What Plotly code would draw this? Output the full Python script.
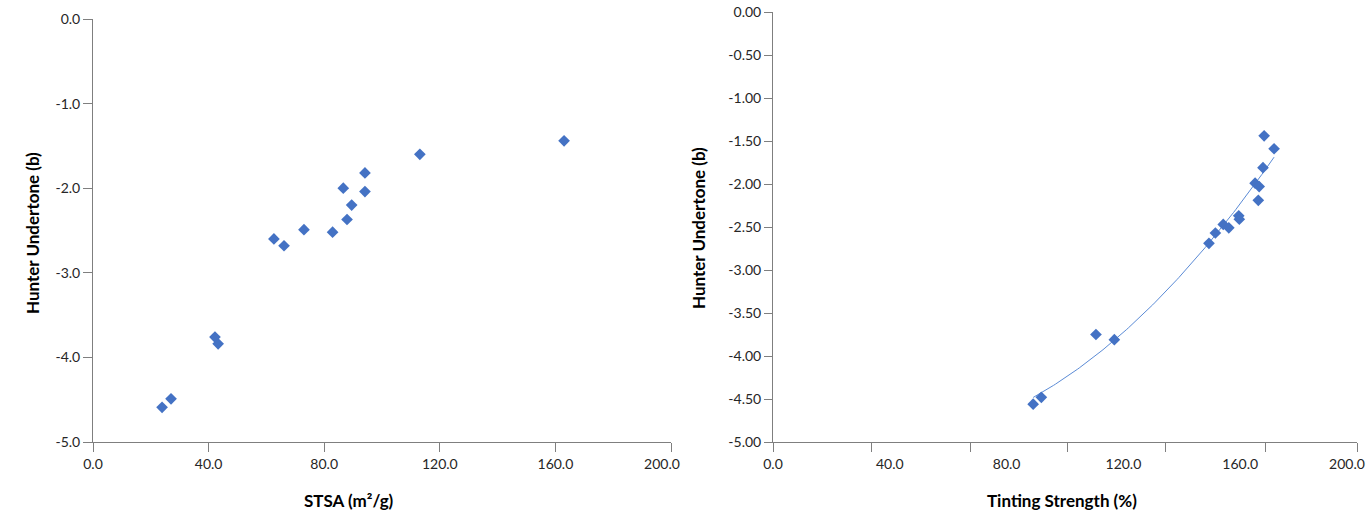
import numpy as np
import plotly.graph_objects as go

# ---- data ----
stsa_x = [23.9, 27.0, 42.2, 43.3, 62.6, 66.1, 73.0, 82.9, 86.6, 87.9, 89.5, 94.1, 94.1, 113.1, 163.0]
stsa_y = [-4.59, -4.49, -3.76, -3.84, -2.60, -2.68, -2.49, -2.52, -2.00, -2.37, -2.20, -1.82, -2.04, -1.60, -1.44]

tint_x = [89.1, 91.9, 110.6, 116.9, 149.3, 151.5, 154.2, 156.1, 159.5, 159.7, 165.1, 166.5, 166.2, 167.8, 168.2, 171.6]
tint_y = [-4.56, -4.48, -3.75, -3.81, -2.69, -2.57, -2.47, -2.51, -2.37, -2.41, -1.99, -2.03, -2.19, -1.81, -1.44, -1.59]

left_xticks = [0, 40, 80, 120, 160, 200]
left_yticks = [0, -1, -2, -3, -4, -5]
right_xlabels = [0, 40, 80, 120, 160, 200]
right_xtickmarks = [0, 33.8, 67.5, 101, 134.5, 168.5, 200]
right_yticks = [0, -0.5, -1, -1.5, -2, -2.5, -3, -3.5, -4, -4.5, -5]

# polynomial (order 2) trendline fitted to the tinting-strength data
coef = np.polyfit(tint_x, tint_y, 2)
trend_x = np.linspace(min(tint_x), max(tint_x), 120)
trend_y = np.polyval(coef, trend_x)

W, H = 1372, 516
BLUE = "#4472C4"
AX = "#7F7F7F"
FONT = "Lato"
TICKFONT = dict(family=FONT, size=14, color="#262626")

def px(x):
    return x / W

def py(y):
    return 1 - y / H

fig = go.Figure()
fig.add_trace(go.Scatter(x=stsa_x, y=stsa_y, mode="markers", xaxis="x", yaxis="y",
                         marker=dict(symbol="diamond", size=9, color=BLUE), showlegend=False))
fig.add_trace(go.Scatter(x=trend_x, y=trend_y, mode="lines", xaxis="x2", yaxis="y2",
                         line=dict(color="#5B8BD6", width=1), showlegend=False))
fig.add_trace(go.Scatter(x=tint_x, y=tint_y, mode="markers", xaxis="x2", yaxis="y2",
                         marker=dict(symbol="diamond", size=9, color=BLUE), showlegend=False))

common = dict(showgrid=False, zeroline=False, showline=True, linecolor=AX, linewidth=1,
              ticks="outside", tickcolor=AX, tickwidth=1, tickfont=TICKFONT,
              fixedrange=True, automargin=False)
label_only = dict(range=[0, 200], side="bottom", showgrid=False, zeroline=False,
                  showline=False, ticks="outside", ticklen=9, tickcolor="rgba(0,0,0,0)",
                  tickfont=TICKFONT, fixedrange=True, automargin=False,
                  ticklabeloverflow="allow")

fig.update_layout(
    width=W, height=H, margin=dict(l=0, r=0, t=0, b=0, autoexpand=False),
    paper_bgcolor="white", plot_bgcolor="white",
    # left chart
    xaxis=dict(domain=[px(93), px(671)], range=[0, 200], anchor="y",
               tickvals=left_xticks,
               ticktext=[f"{v:.1f}" for v in left_xticks[:-1]] + [""],
               ticklen=9, **common),
    xaxis4=dict(overlaying="x", anchor="y", tickvals=[left_xticks[-1]],
                ticktext=[f"{left_xticks[-1]:.1f}"], ticklabelshift=-9, **label_only),
    yaxis=dict(domain=[py(442), py(19)], range=[-5, 0], anchor="x",
               tickvals=left_yticks, ticktext=[f"{v:.1f}" for v in left_yticks],
               ticklen=9, **common),
    # right chart
    xaxis2=dict(domain=[px(773), px(1357)], range=[0, 200], anchor="y2",
                tickvals=right_xtickmarks, showticklabels=False, ticklen=9, **common),
    xaxis3=dict(overlaying="x2", anchor="y2", tickvals=right_xlabels[:-1],
                ticktext=[f"{v:.1f}" for v in right_xlabels[:-1]], **label_only),
    xaxis5=dict(overlaying="x2", anchor="y2", tickvals=[right_xlabels[-1]],
                ticktext=[f"{right_xlabels[-1]:.1f}"], ticklabelshift=-10, **label_only),
    yaxis2=dict(domain=[py(442), py(12)], range=[-5, 0], anchor="x2",
                tickvals=right_yticks, ticktext=[f"{v:.2f}" for v in right_yticks],
                ticklen=8, **common),
)

# dummy traces so overlay axes render
for xa in ["x3", "x4", "x5"]:
    fig.add_trace(go.Scatter(x=[None], y=[None], xaxis=xa,
                             yaxis="y" if xa == "x4" else "y2",
                             showlegend=False, hoverinfo="skip"))

TITLEFONT = dict(family=FONT, size=17, color="#000000")
ann = [
    dict(text="<b>Hunter Undertone (b)</b>", x=px(32), y=py(233), textangle=-90),
    dict(text="<b>Hunter Undertone (b)</b>", x=px(698), y=py(228), textangle=-90),
    dict(text="<b>STSA (m²/g)</b>", x=px(349), y=py(500)),
    dict(text="<b>Tinting Strength (%)</b>", x=px(1062), y=py(500)),
]
for a in ann:
    fig.add_annotation(xref="paper", yref="paper", showarrow=False, font=TITLEFONT,
                       xanchor="center", yanchor="middle", **a)

fig.write_html("out.html", config={"displayModeBar": False},
               post_script="document.body.style.margin='0px';document.body.style.padding='0px';document.body.style.overflow='hidden';")
